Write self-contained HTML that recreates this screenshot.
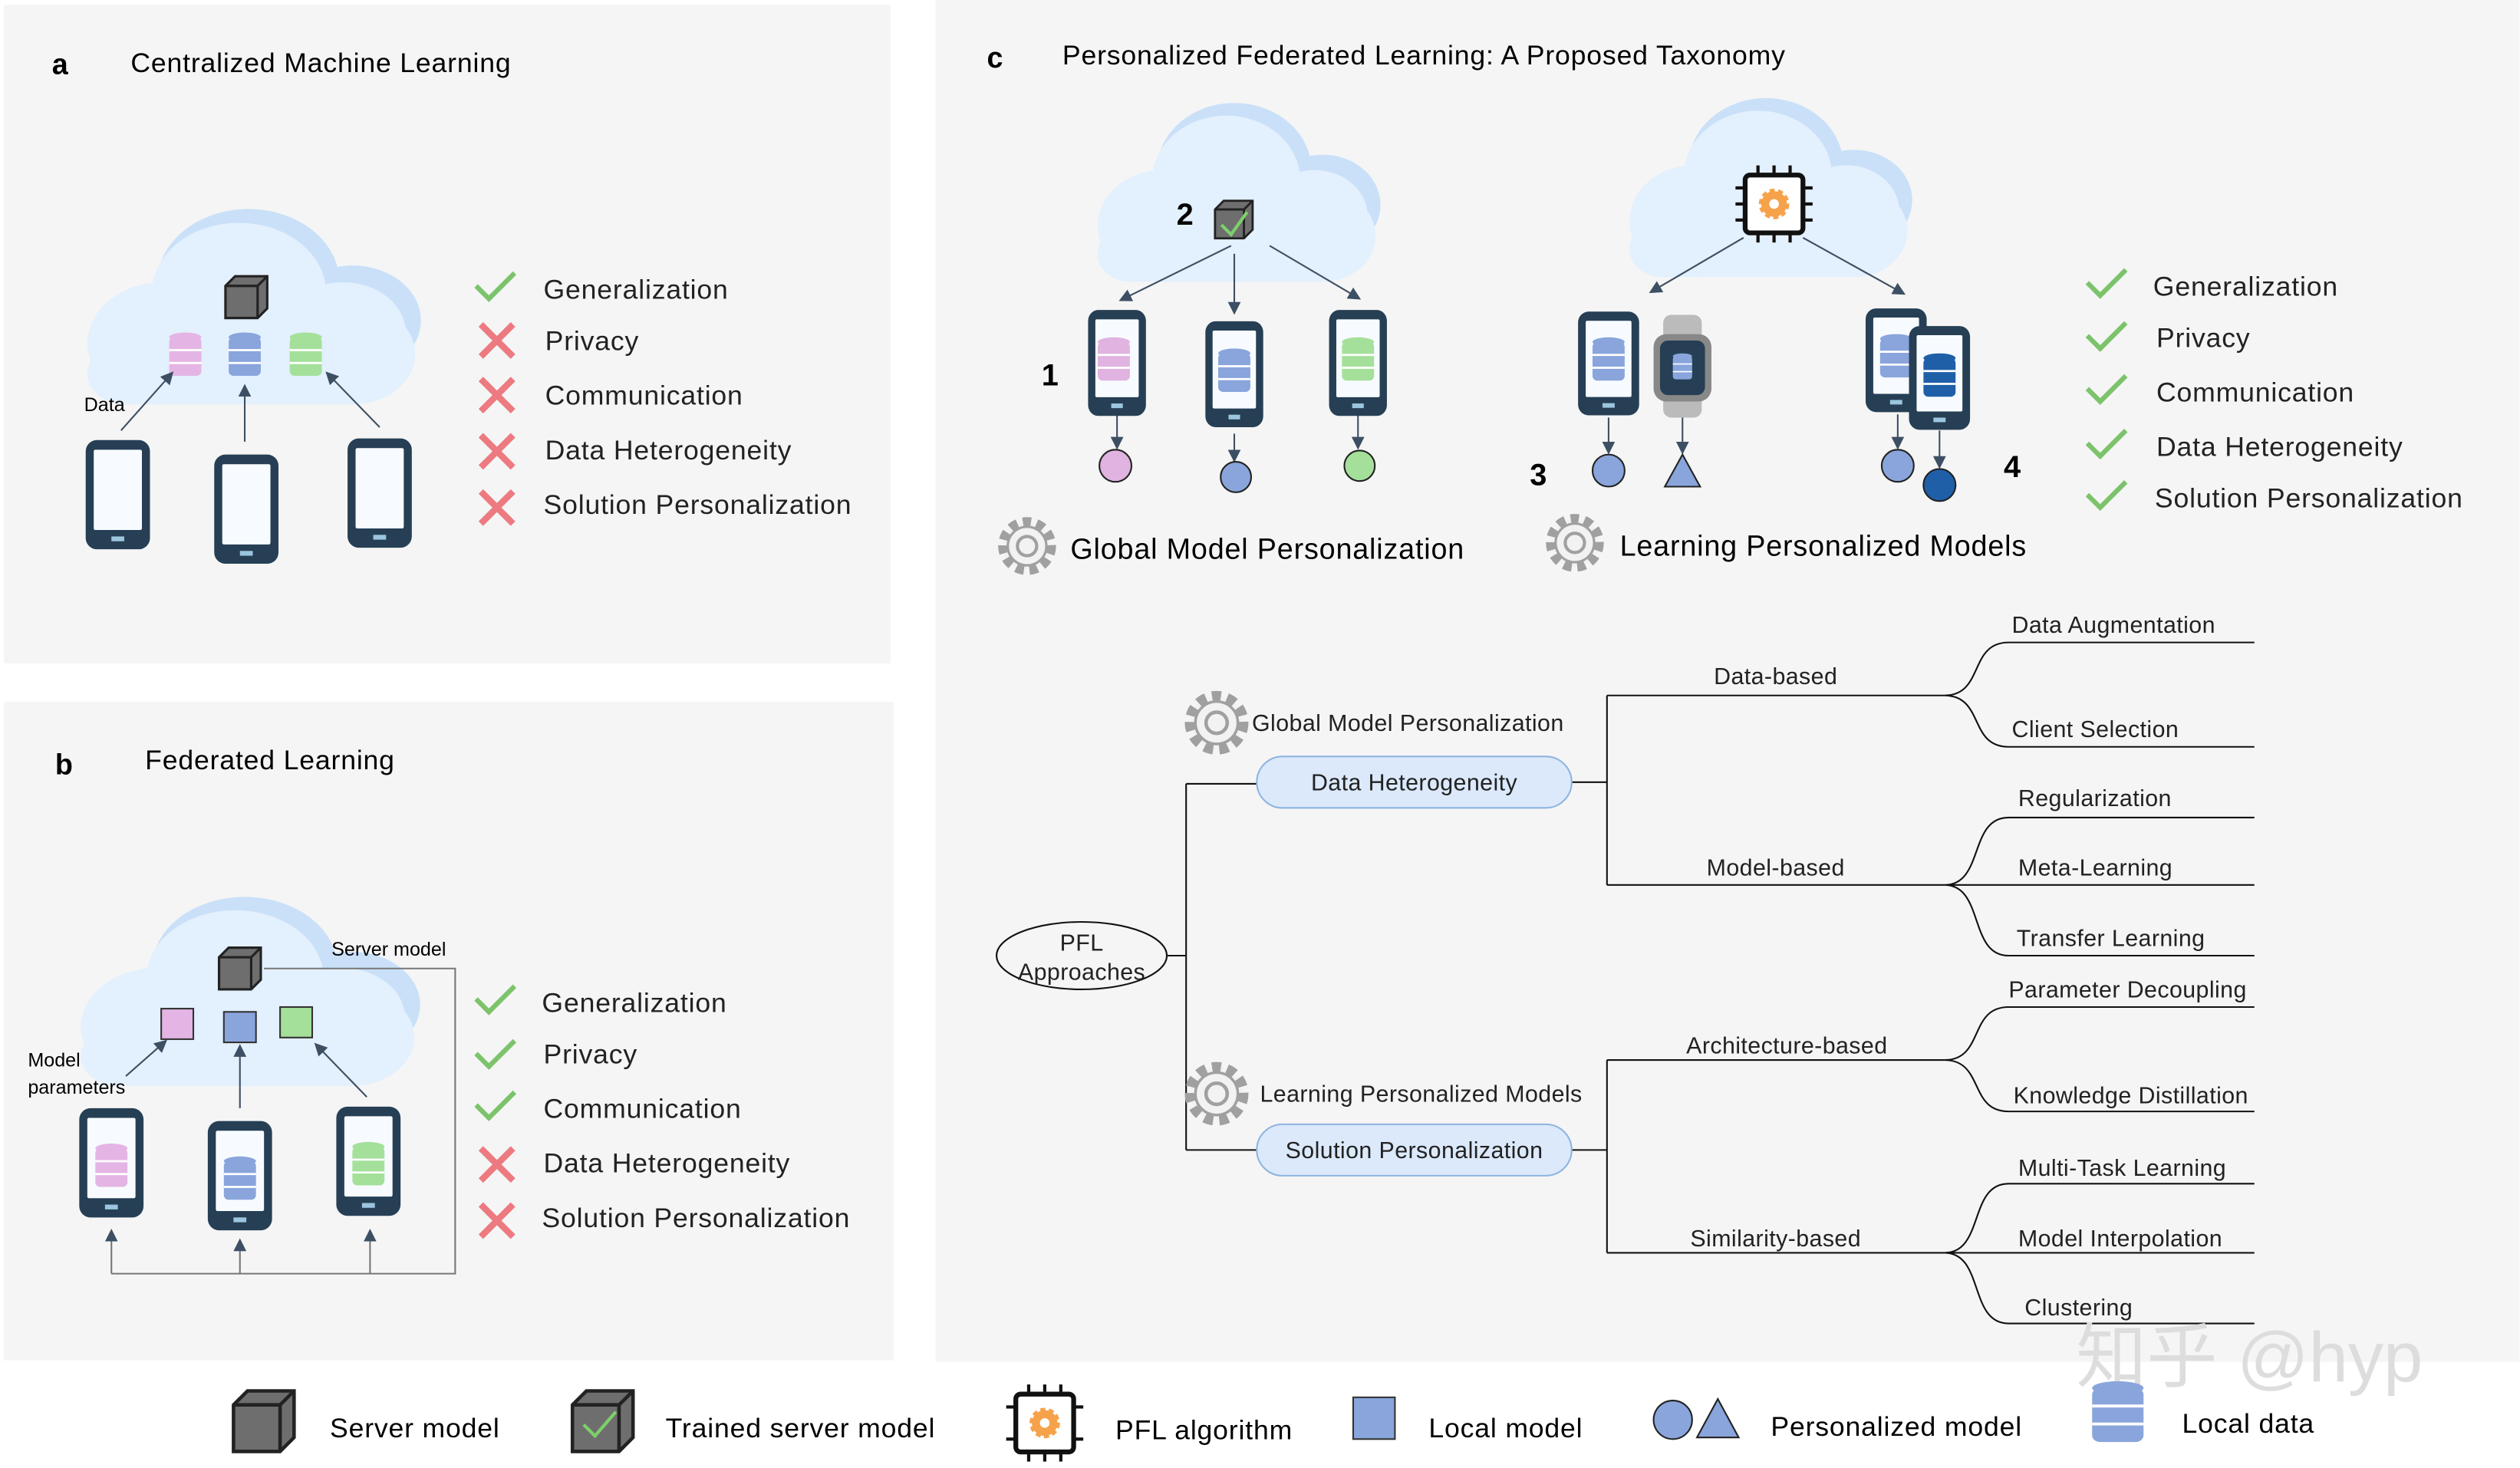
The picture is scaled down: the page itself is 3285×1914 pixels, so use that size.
<!DOCTYPE html>
<html><head><meta charset="utf-8"><style>
html,body{margin:0;padding:0;background:#fff;}
svg{display:block;font-family:"Liberation Sans","DejaVu Sans",sans-serif;}
.w{letter-spacing:0.4px;}
</style></head><body>
<svg width="3285" height="1914" viewBox="0 0 1568 914" xmlns="http://www.w3.org/2000/svg">
<defs>
<marker id="ar" markerWidth="8" markerHeight="8" refX="7" refY="4" orient="auto" markerUnits="userSpaceOnUse"><path d="M0,0 L8,4 L0,8 z" fill="#3d4f63"/></marker>
<g id="phone"><rect x="0" y="0" width="40" height="68" rx="7" fill="#263f55"/><rect x="5" y="6" width="30" height="50" rx="1" fill="#f7fbff"/><rect x="16" y="60" width="8" height="3" fill="#9cc6df"/></g>
<g id="db"><rect x="0" y="3" width="20" height="24" rx="3"/><ellipse cx="10" cy="3" rx="10" ry="3"/><line x1="0" y1="11" x2="20" y2="11" stroke="#fff" stroke-width="1.3"/><line x1="0" y1="19" x2="20" y2="19" stroke="#fff" stroke-width="1.3"/></g>
<g id="cloud"><circle cx="85" cy="55" r="48" fill="#c9e0f8"/><circle cx="140" cy="80" r="36" fill="#c9e0f8"/><circle cx="80" cy="62" r="46" fill="#e3f0fd"/><circle cx="40" cy="95" r="40" fill="#e3f0fd"/><circle cx="135" cy="88" r="33" fill="#e3f0fd"/><circle cx="140" cy="102" r="33" fill="#e3f0fd"/><rect x="40" y="70" width="100" height="65" fill="#e3f0fd"/><rect x="0" y="95" width="60" height="40" fill="#e3f0fd" rx="20"/></g>
<g id="gear"><circle r="15" fill="#f2f2f2" stroke="#a0a0a0" stroke-width="6" stroke-dasharray="5 3.5"/><circle r="12" fill="#f2f2f2" stroke="#a0a0a0" stroke-width="1.5"/><circle r="6" fill="none" stroke="#a0a0a0" stroke-width="2"/></g>
<g id="chk"><path d="M0,10 L8,18 L24,2" fill="none" stroke="#7cc36b" stroke-width="3"/></g>
<g id="crs"><path d="M2,2 L22,22 M22,2 L2,22" stroke="#ec7a80" stroke-width="4"/></g>
<g id="cube"><path d="M0,6 L6,0 L26,0 L26,20 L20,26 L0,26 z" fill="#6e6e6e" stroke="#222" stroke-width="1.5"/><path d="M0,6 L20,6 L20,26 M20,6 L26,0" fill="none" stroke="#222" stroke-width="1.5"/></g>
</defs>
<rect width="1568" height="914" fill="#fff"/>
<rect x="2" y="3" width="552" height="410" fill="#f5f5f5"/>
<rect x="2" y="437" width="554" height="410" fill="#f5f5f5"/>
<rect x="582" y="0" width="986" height="848" fill="#f5f5f5"/>

<!-- panel a -->
<text x="32" y="46" font-size="18" font-weight="bold">a</text>
<text class="w" x="81" y="45" font-size="17">Centralized Machine Learning</text>
<use href="#cloud" transform="translate(-5,0) scale(1.18,0.95) translate(50,130)"/>
<use href="#cube" x="140" y="172"/>
<use href="#db" x="105" y="207" fill="#e4b5e4"/>
<use href="#db" x="142" y="207" fill="#8aa5dc"/>
<use href="#db" x="180" y="207" fill="#a5e09b"/>
<g stroke="#3d4f63" stroke-width="1" marker-end="url(#ar)"><line x1="75" y1="268" x2="107" y2="232"/><line x1="152" y1="275" x2="152" y2="240"/><line x1="236" y1="266" x2="203" y2="232"/></g>
<text x="52" y="256" font-size="12">Data</text>
<use href="#phone" x="53" y="274"/><use href="#phone" x="133" y="283"/><use href="#phone" x="216" y="273"/>
<g font-size="17" fill="#222" class="w">
<use href="#chk" x="296" y="168"/><text x="338" y="186">Generalization</text>
<use href="#crs" x="297" y="200"/><text x="339" y="218">Privacy</text>
<use href="#crs" x="297" y="234"/><text x="339" y="252">Communication</text>
<use href="#crs" x="297" y="269"/><text x="339" y="286">Data Heterogeneity</text>
<use href="#crs" x="297" y="304"/><text x="338" y="320">Solution Personalization</text>
</g>

<!-- panel b -->
<text x="34" y="482" font-size="18" font-weight="bold">b</text>
<text class="w" x="90" y="479" font-size="17">Federated Learning</text>
<use href="#cloud" transform="translate(50,552) scale(1.2,0.92)"/>
<use href="#cube" x="136" y="590"/>
<rect x="100" y="628" width="20" height="19" fill="#e4b5e4" stroke="#333"/>
<rect x="139" y="630" width="20" height="19" fill="#8aa5dc" stroke="#333"/>
<rect x="174" y="627" width="20" height="19" fill="#a5e09b" stroke="#333"/>
<g stroke="#3d4f63" stroke-width="1" marker-end="url(#ar)"><line x1="78" y1="670" x2="103" y2="648"/><line x1="149" y1="690" x2="149" y2="651"/><line x1="228" y1="683" x2="196" y2="650"/></g>
<text x="206" y="595" font-size="12">Server model</text>
<text x="17" y="664" font-size="12">Model</text><text x="17" y="681" font-size="12">parameters</text>
<path d="M164,603 L283,603 L283,793 L69,793" fill="none" stroke="#777" stroke-width="1"/>
<g stroke="#777" stroke-width="1" marker-end="url(#ar)"><line x1="69" y1="793" x2="69" y2="766"/><line x1="149" y1="793" x2="149" y2="772"/><line x1="230" y1="793" x2="230" y2="766"/></g>
<use href="#phone" x="49" y="690"/><use href="#phone" x="129" y="698"/><use href="#phone" x="209" y="689"/>
<use href="#db" x="59" y="712" fill="#e4b5e4"/><use href="#db" x="139" y="720" fill="#8aa5dc"/><use href="#db" x="219" y="711" fill="#a5e09b"/>
<g font-size="17" fill="#222" class="w">
<use href="#chk" x="296" y="612"/><text x="337" y="630">Generalization</text>
<use href="#chk" x="296" y="646"/><text x="338" y="662">Privacy</text>
<use href="#chk" x="296" y="678"/><text x="338" y="696">Communication</text>
<use href="#crs" x="297" y="713"/><text x="338" y="730">Data Heterogeneity</text>
<use href="#crs" x="297" y="748"/><text x="337" y="764">Solution Personalization</text>
</g>

<!-- panel c -->
<text x="614" y="42" font-size="18" font-weight="bold">c</text>
<text class="w" x="661" y="40" font-size="17">Personalized Federated Learning: A Proposed Taxonomy</text>
<use href="#cloud" transform="translate(683,58) scale(1.0,0.87)"/>
<use href="#cloud" transform="translate(1014,55) scale(1.0,0.87)"/>
<use href="#cube" transform="translate(756,125) scale(0.9)"/>
<path d="M760,140 L766,146 L776,132" fill="none" stroke="#7cd06b" stroke-width="2"/>
<text x="732" y="140" font-size="19" font-weight="bold">2</text>
<text x="648" y="240" font-size="19" font-weight="bold">1</text>
<text x="952" y="302" font-size="19" font-weight="bold">3</text>
<text x="1247" y="297" font-size="19" font-weight="bold">4</text>
<g stroke="#3d4f63" stroke-width="1" marker-end="url(#ar)">
<line x1="766" y1="153" x2="697" y2="187"/><line x1="768" y1="158" x2="768" y2="195"/><line x1="790" y1="153" x2="846" y2="186"/>
<line x1="695" y1="258" x2="695" y2="279"/><line x1="768" y1="270" x2="768" y2="287"/><line x1="845" y1="258" x2="845" y2="279"/>
<line x1="1085" y1="148" x2="1027" y2="182"/><line x1="1122" y1="148" x2="1185" y2="183"/>
<line x1="1001" y1="260" x2="1001" y2="282"/><line x1="1047" y1="260" x2="1047" y2="282"/><line x1="1181" y1="258" x2="1181" y2="279"/><line x1="1207" y1="268" x2="1207" y2="291"/>
</g>
<use href="#phone" transform="translate(677,193) scale(0.9,0.97)"/>
<use href="#phone" transform="translate(750,200) scale(0.9,0.97)"/>
<use href="#phone" transform="translate(827,193) scale(0.9,0.97)"/>
<use href="#db" x="683" y="210" fill="#e0b3e0"/><use href="#db" x="758" y="217" fill="#89a5dc"/><use href="#db" x="835" y="210" fill="#a5e09b"/>
<circle cx="694" cy="290" r="10" fill="#e0b3e0" stroke="#222"/><circle cx="769" cy="297" r="9.5" fill="#89a5dc" stroke="#222"/><circle cx="846" cy="290" r="9.5" fill="#a5e09b" stroke="#222"/>
<use href="#phone" transform="translate(982,194) scale(0.95,0.95)"/>
<use href="#db" x="991" y="210" fill="#89a5dc"/>
<rect x="1035" y="196" width="24" height="64" rx="5" fill="#bbb"/><rect x="1029" y="208" width="36" height="42" rx="8" fill="#888"/><rect x="1033" y="212" width="28" height="34" rx="5" fill="#263f55"/><use href="#db" transform="translate(1041,220) scale(0.6)" fill="#89a5dc"/>
<use href="#phone" transform="translate(1161,192) scale(0.95,0.95)"/><use href="#db" x="1170" y="208" fill="#89a5dc"/>
<use href="#phone" transform="translate(1188,203) scale(0.95,0.95)"/><use href="#db" x="1197" y="220" fill="#1f5fa8"/>
<circle cx="1001" cy="293" r="10" fill="#89a5dc" stroke="#222"/><path d="M1047,283 L1058,303 L1036,303 z" fill="#89a5dc" stroke="#222"/>
<circle cx="1181" cy="290" r="10" fill="#89a5dc" stroke="#222"/><circle cx="1207" cy="302" r="10" fill="#1f5fa8" stroke="#222"/>
<g transform="translate(1104,127)"><rect x="-18" y="-18" width="36" height="36" rx="3" fill="#fff" stroke="#111" stroke-width="3"/><g stroke="#111" stroke-width="2">
<line x1="-10" y1="-18" x2="-10" y2="-24"/><line x1="0" y1="-18" x2="0" y2="-24"/><line x1="10" y1="-18" x2="10" y2="-24"/>
<line x1="-10" y1="18" x2="-10" y2="24"/><line x1="0" y1="18" x2="0" y2="24"/><line x1="10" y1="18" x2="10" y2="24"/>
<line x1="-18" y1="-10" x2="-24" y2="-10"/><line x1="-18" y1="0" x2="-24" y2="0"/><line x1="-18" y1="10" x2="-24" y2="10"/>
<line x1="18" y1="-10" x2="24" y2="-10"/><line x1="18" y1="0" x2="24" y2="0"/><line x1="18" y1="10" x2="24" y2="10"/></g>
<circle r="8" fill="#f6a24a" stroke="#f6a24a" stroke-width="3" stroke-dasharray="3 2"/><circle r="3" fill="#fff"/></g>
<use href="#gear" x="639" y="340"/><text class="w" x="666" y="348" font-size="18">Global Model Personalization</text>
<use href="#gear" x="980" y="338"/><text class="w" x="1008" y="346" font-size="18">Learning Personalized Models</text>
<g font-size="17" fill="#222" class="w">
<use href="#chk" x="1299" y="166"/><text x="1340" y="184">Generalization</text>
<use href="#chk" x="1299" y="199"/><text x="1342" y="216">Privacy</text>
<use href="#chk" x="1299" y="232"/><text x="1342" y="250">Communication</text>
<use href="#chk" x="1299" y="266"/><text x="1342" y="284">Data Heterogeneity</text>
<use href="#chk" x="1299" y="298"/><text x="1341" y="316">Solution Personalization</text>
</g>

<!-- tree -->
<g fill="none" stroke="#111" stroke-width="1">
<ellipse cx="673" cy="595" rx="53" ry="21" fill="#f5f5f5"/>
<path d="M726,595 L738,595 M738,488 L738,716 M738,488 L784,488 M738,716 L784,716"/>
<path d="M977,487 L1000,487 M1000,433 L1000,551 M1000,433 L1210,433 M1000,551 L1210,551"/>
<path d="M977,716 L1000,716 M1000,660 L1000,780 M1000,660 L1210,660 M1000,780 L1210,780"/>
<path d="M1210,433 C1235,433 1225,400 1250,400 L1403,400 M1210,433 C1235,433 1225,465 1250,465 L1403,465"/>
<path d="M1210,551 C1235,551 1225,509 1250,509 L1403,509 M1210,551 L1403,551 M1210,551 C1235,551 1225,595 1250,595 L1403,595"/>
<path d="M1210,660 C1235,660 1225,627 1250,627 L1403,627 M1210,660 C1235,660 1225,692 1250,692 L1403,692"/>
<path d="M1210,780 C1235,780 1225,737 1250,737 L1403,737 M1210,780 L1403,780 M1210,780 C1235,780 1225,824 1250,824 L1403,824"/>
</g>
<rect x="782" y="471" width="196" height="32" rx="16" fill="#dbe9fb" stroke="#8fb4e0"/>
<rect x="782" y="700" width="196" height="32" rx="16" fill="#dbe9fb" stroke="#8fb4e0"/>
<g font-size="14.5" fill="#222" style="letter-spacing:0.2px">
<text x="673" y="592" text-anchor="middle">PFL</text><text x="673" y="610" text-anchor="middle">Approaches</text>
<text x="880" y="492" text-anchor="middle">Data Heterogeneity</text>
<text x="880" y="721" text-anchor="middle">Solution Personalization</text>
<text x="779" y="455">Global Model Personalization</text>
<text x="784" y="686">Learning Personalized Models</text>
<text x="1105" y="426" text-anchor="middle">Data-based</text>
<text x="1105" y="545" text-anchor="middle">Model-based</text>
<text x="1112" y="656" text-anchor="middle">Architecture-based</text>
<text x="1105" y="776" text-anchor="middle">Similarity-based</text>
<text x="1252" y="394">Data Augmentation</text>
<text x="1252" y="459">Client Selection</text>
<text x="1256" y="502">Regularization</text>
<text x="1256" y="545">Meta-Learning</text>
<text x="1255" y="589">Transfer Learning</text>
<text x="1250" y="621">Parameter Decoupling</text>
<text x="1253" y="687">Knowledge Distillation</text>
<text x="1256" y="732">Multi-Task Learning</text>
<text x="1256" y="776">Model Interpolation</text>
<text x="1260" y="819">Clustering</text>
</g>
<use href="#gear" transform="translate(757,450) scale(1.1)"/>
<use href="#gear" transform="translate(757,681) scale(1.1)"/>
<text x="1292" y="860" font-size="44" fill="#ddd" font-family="Liberation Sans,Noto Sans CJK SC,sans-serif">知乎 @hyp</text>

<!-- legend -->
<use href="#cube" transform="translate(145,866) scale(1.45)"/>
<text class="w" x="205" y="895" font-size="17">Server model</text>
<use href="#cube" transform="translate(356,866) scale(1.45)"/>
<path d="M363,887 L370,894 L383,879" fill="none" stroke="#7cd06b" stroke-width="2"/>
<text class="w" x="414" y="895" font-size="17">Trained server model</text>
<g transform="translate(650,886)"><rect x="-18" y="-18" width="36" height="36" rx="3" fill="#fff" stroke="#111" stroke-width="3"/><g stroke="#111" stroke-width="2"><line x1="-10" y1="-18" x2="-10" y2="-24"/><line x1="0" y1="-18" x2="0" y2="-24"/><line x1="10" y1="-18" x2="10" y2="-24"/><line x1="-10" y1="18" x2="-10" y2="24"/><line x1="0" y1="18" x2="0" y2="24"/><line x1="10" y1="18" x2="10" y2="24"/><line x1="-18" y1="-10" x2="-24" y2="-10"/><line x1="-18" y1="10" x2="-24" y2="10"/><line x1="18" y1="-10" x2="24" y2="-10"/><line x1="18" y1="10" x2="24" y2="10"/></g><circle r="8" fill="#f6a24a" stroke="#f6a24a" stroke-width="3" stroke-dasharray="3 2"/><circle r="3" fill="#fff"/></g>
<text class="w" x="694" y="896" font-size="17">PFL algorithm</text>
<rect x="842" y="870" width="26" height="26" fill="#8aa5dc" stroke="#333"/>
<text class="w" x="889" y="895" font-size="17">Local model</text>
<circle cx="1041" cy="884" r="12" fill="#8aa5dc" stroke="#222"/><path d="M1069,871 L1082,895 L1056,895 z" fill="#8aa5dc" stroke="#222"/>
<text class="w" x="1102" y="894" font-size="17">Personalized model</text>
<use href="#db" transform="translate(1302,860) scale(1.6,1.4)" fill="#8aa5dc"/>
<text class="w" x="1358" y="892" font-size="17">Local data</text>
</svg>
</body></html>
